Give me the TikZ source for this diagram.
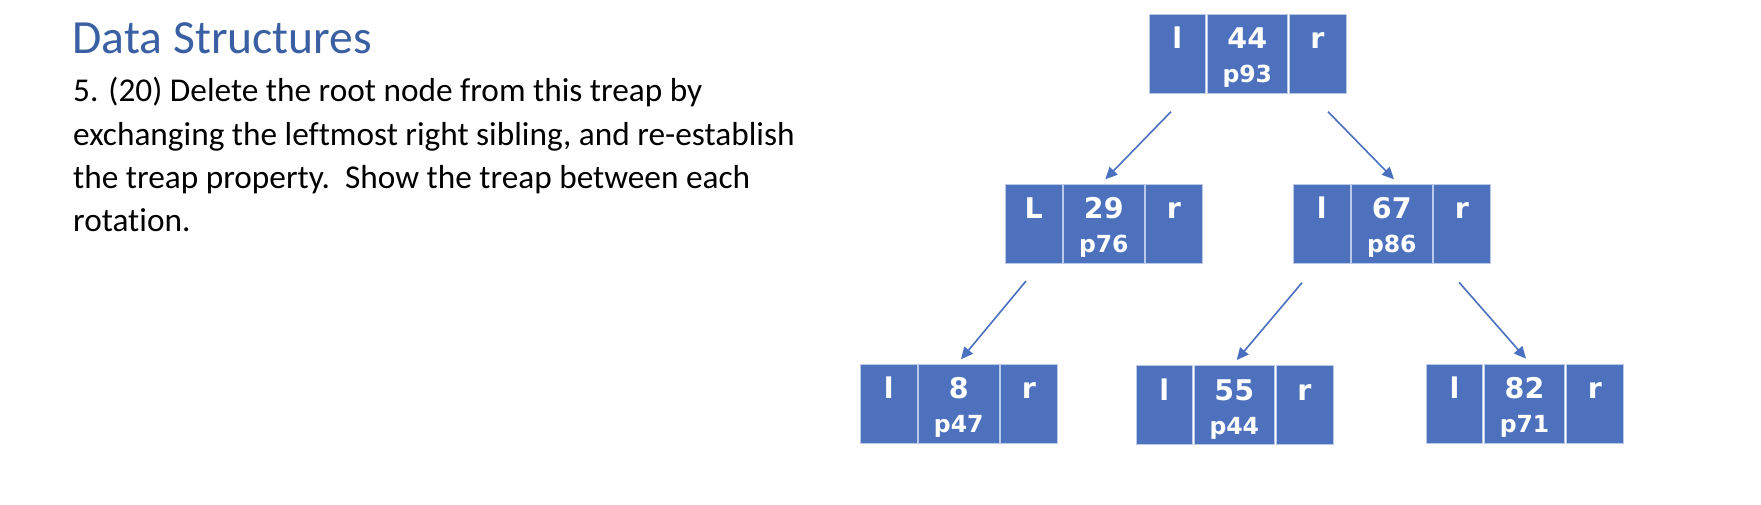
\documentclass[tikz,border=0pt]{standalone}
\usepackage{fontspec}
\setmainfont{Carlito}[Ligatures=NoCommon]
\newfontfamily\cellfont{DejaVu Sans}
\usetikzlibrary{arrows.meta}
\definecolor{boxblue}{HTML}{4E71BE}
\definecolor{edgeblue}{HTML}{BACBEA}
\definecolor{arrowblue}{HTML}{4A70BF}
\definecolor{titleblue}{HTML}{3A5FA3}
\tikzset{
  cellbox/.style={rectangle, fill=boxblue, draw=edgeblue, line width=0.7pt,
    minimum height=79pt, inner sep=0pt, outer sep=0pt, anchor=north west},
  keytext/.style={anchor=base, inner sep=0pt, text=white,
    font=\cellfont\bfseries\fontsize{28.5}{30}\selectfont},
  priotext/.style={anchor=base, inner sep=0pt, text=white,
    font=\cellfont\bfseries\fontsize{23.5}{26}\selectfont},
  conn/.style={draw=arrowblue, line width=1.6pt,
    -{Triangle[length=12pt,width=11pt]}},
  bodyline/.style={anchor=base west, inner sep=0pt,
    font=\fontsize{33.3}{43}\selectfont},
}
\newcommand\treapnode[6]{%
  \node[cellbox, minimum width=56.5pt] (#1-l) at (#2,#3) {};
  \node[cellbox, minimum width=80.5pt] (#1-m) at ([xshift=1.5pt]#1-l.north east) {};
  \node[cellbox, minimum width=57pt] (#1-r) at ([xshift=1.5pt]#1-m.north east) {};
  \node[keytext] (#1-lt) at ([yshift=-34.5pt]#1-l.north) {#4};
  \node[keytext] (#1-kt) at ([yshift=-34.5pt]#1-m.north) {#5};
  \node[priotext] (#1-pt) at ([yshift=-68.5pt]#1-m.north) {#6};
  \node[keytext] (#1-rt) at ([yshift=-34.5pt]#1-r.north) {r};
}
\begin{document}
\begin{tikzpicture}[x=1pt,y=-1pt]
\useasboundingbox[fill=white] (0,0) rectangle (1761,505);
% text
\node[anchor=base west, inner sep=0pt, text=titleblue,
  font=\fontsize{47.6}{50}\selectfont] (title) at (72.5,53.3) {Data Structures};
\node[bodyline] (line1) at (73,102) {5. (20) Delete the root node from this treap by};
\node[bodyline] (line2) at (73,145.5) {exchanging the leftmost right sibling, and re-establish};
\node[bodyline] (line3) at (73,189) {the treap property.\ \ Show the treap between each};
\node[bodyline] (line4) at (73,232) {rotation.};
% treap nodes
\treapnode{n44}{1149}{14}{l}{44}{p93}
\treapnode{n29}{1005.5}{184}{L}{29}{p76}
\treapnode{n67}{1293.5}{184.3}{l}{67}{p86}
\treapnode{n8}{860.5}{364.3}{l}{8}{p47}
\treapnode{n55}{1136}{365.5}{l}{55}{p44}
\treapnode{n82}{1426.3}{364}{l}{82}{p71}
% connector ends
\coordinate (a1s) at (1171,111.7);
\coordinate (a1e) at (1105.3,179.3);
\coordinate (a2s) at (1328,111.7);
\coordinate (a2e) at (1394,179.3);
\coordinate (a3s) at (1026,281);
\coordinate (a3e) at (961,359.3);
\coordinate (a4s) at (1302,282.7);
\coordinate (a4e) at (1236.7,360);
\coordinate (a5s) at (1459,282.3);
\coordinate (a5e) at (1526,358.7);
\draw[conn] (a1s) -- (a1e);
\draw[conn] (a2s) -- (a2e);
\draw[conn] (a3s) -- (a3e);
\draw[conn] (a4s) -- (a4e);
\draw[conn] (a5s) -- (a5e);
\end{tikzpicture}
\end{document}
